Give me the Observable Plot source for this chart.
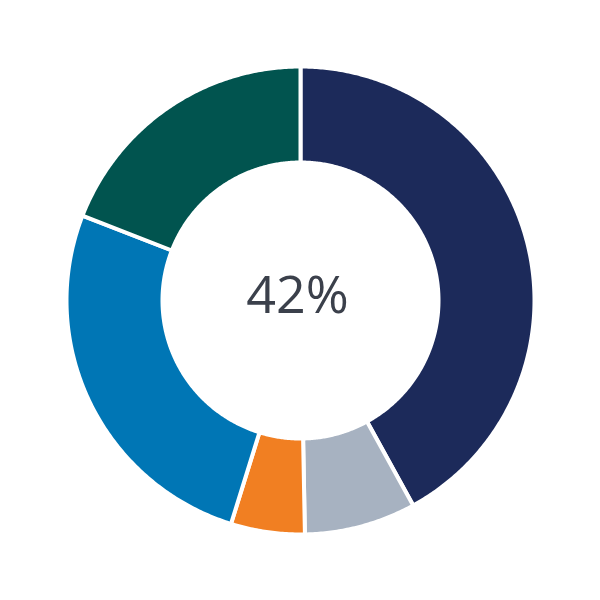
<!DOCTYPE html>
<html>
<head>
<meta charset="utf-8">
<script src="https://cdn.jsdelivr.net/npm/d3@7"></script>
<script src="https://cdn.jsdelivr.net/npm/@observablehq/plot@0.6"></script>
<style>
  html, body { margin: 0; padding: 0; background: #fff; }
</style>
</head>
<body>
<div id="chart"></div>
<script>
const categories = ["A", "B", "C", "D", "E"];
const values = [42, 7.7, 5.1, 26.1, 19.1];
const colors = ["#1c2a5a", "#a7b2c1", "#f17f22", "#0076b5", "#01544f"];
const centerLabel = "42%";

const outerR = 0.78, innerR = 0.46;
const arcs = d3.pie().sort(null).startAngle(0).endAngle(2 * Math.PI)(values);
const points = [];
arcs.forEach((a, i) => {
  const n = Math.max(2, Math.ceil((a.endAngle - a.startAngle) / (Math.PI / 360)));
  for (let k = 0; k <= n; k++) {
    const t = a.startAngle + (a.endAngle - a.startAngle) * k / n;
    points.push({key: categories[i], x: outerR * Math.sin(t), y: outerR * Math.cos(t)});
  }
  for (let k = n; k >= 0; k--) {
    const t = a.startAngle + (a.endAngle - a.startAngle) * k / n;
    points.push({key: categories[i], x: innerR * Math.sin(t), y: innerR * Math.cos(t)});
  }
});

const chart = Plot.plot({
  width: 600,
  height: 600,
  margin: 0,
  x: {domain: [-1, 1], axis: null},
  y: {domain: [-1, 1], axis: null},
  color: {domain: categories, range: colors},
  style: {background: "#fff"},
  marks: [
    Plot.line(points, {x: "x", y: "y", z: "key", fill: "key", stroke: "white", strokeWidth: 4, curve: "linear-closed"}),
    Plot.text([centerLabel], {x: () => 0, y: () => 0, text: d => d, fontSize: 52, fontWeight: 400, fill: "#3b404b", fontFamily: "Open Sans", lineAnchor: "middle", dy: -4, dx: -3})
  ]
});
document.getElementById("chart").appendChild(chart);
</script>
</body>
</html>
